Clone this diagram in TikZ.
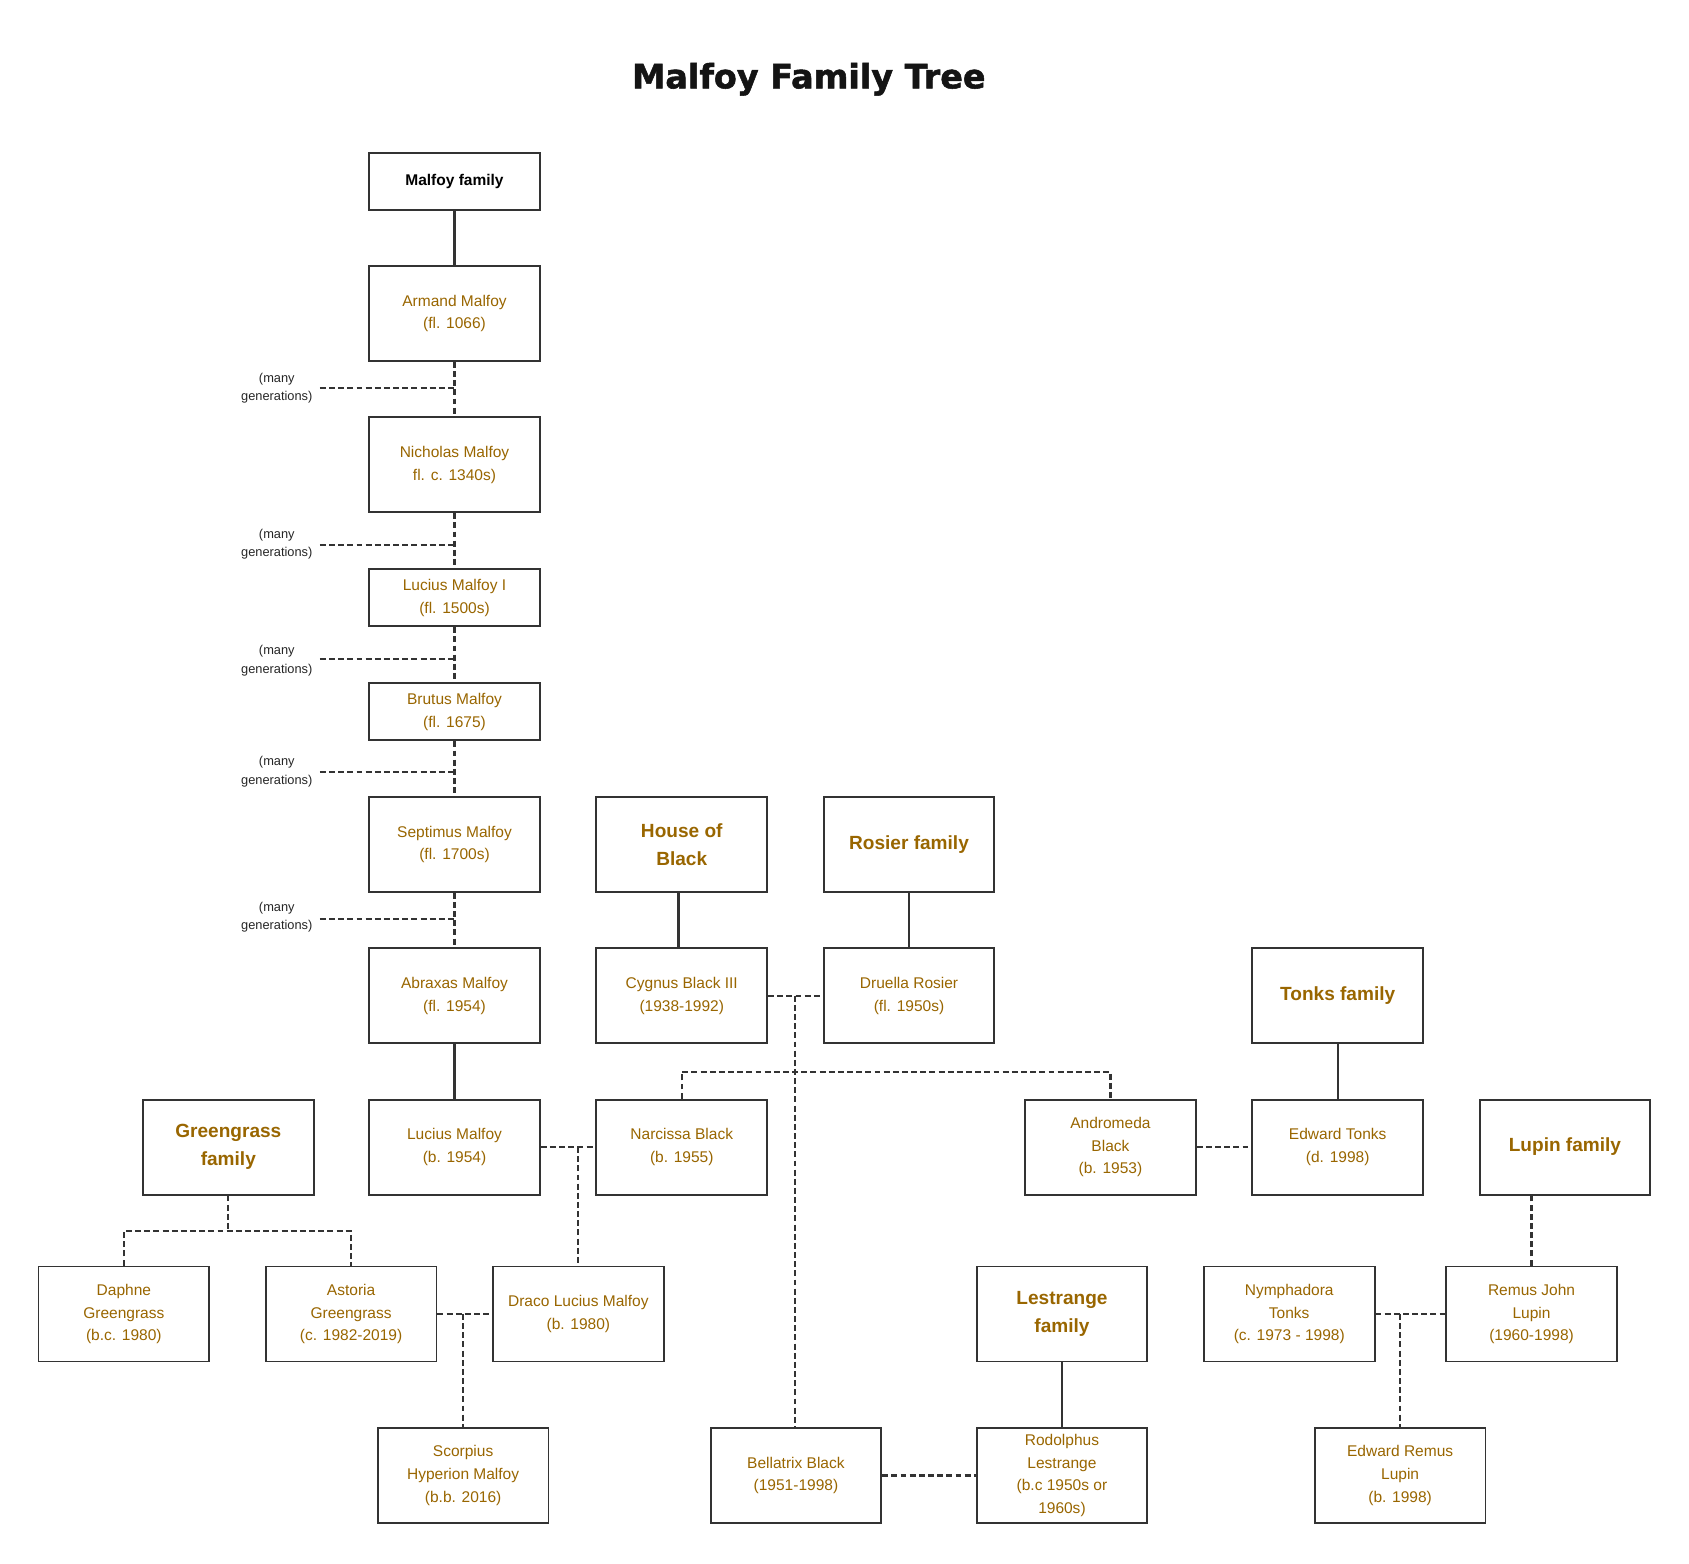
\documentclass[tikz,border=0pt]{standalone}
\usepackage{fontspec}
\setmainfont{Liberation Sans}
\newfontfamily\titlefont[BoldFeatures={FakeBold=1.6}]{DejaVu Sans}
\begin{document}
\begin{tikzpicture}[x=1pt,y=-1pt,
  boxc/.style={draw=edge,line width=1.8pt,rectangle,minimum width=158.5pt,minimum height=88.2pt,inner sep=2pt,align=center,text=gold,font=\fontsize{14.4}{21}\selectfont},
  shortbox/.style={boxc,minimum height=52.9pt},
  fam/.style={boxc,font=\fontsize{17.7}{26}\selectfont\bfseries},
  solidline/.style={draw=edge,line width=2pt},
  dashline/.style={draw=edge,line width=2pt,dash pattern=on 5.5pt off 3pt},
  gen/.style={align=center,text=black!85,font=\fontsize{11.9}{17}\selectfont,inner sep=0pt}
]
\definecolor{edge}{HTML}{333333}
\definecolor{gold}{HTML}{996600}
\useasboundingbox[fill=white] (0,0) rectangle (1568.2,1451.3);

\node[anchor=base,inner sep=0pt] (title) at (751,82) {\titlefont\bfseries\fontsize{31}{36}\selectfont\textcolor{black!92}{Malfoy Family Tree}};

% Malfoy line
\node[shortbox,text=black,font=\fontsize{14.4}{21}\selectfont\bfseries] (malfoy) at (422,168.5) {Malfoy family};
\node[boxc] (armand) at (422,291) {Armand Malfoy\\(fl. 1066)};
\node[boxc] (nicholas) at (422,431.5) {Nicholas Malfoy\\fl. c. 1340s)};
\node[shortbox] (luciusI) at (422,555) {Lucius Malfoy I\\(fl. 1500s)};
\node[shortbox] (brutus) at (422,661) {Brutus Malfoy\\(fl. 1675)};
\node[boxc] (septimus) at (422,784) {Septimus Malfoy\\(fl. 1700s)};
\node[boxc] (abraxas) at (422,924.5) {Abraxas Malfoy\\(fl. 1954)};
\node[boxc] (lucius) at (422,1065) {Lucius Malfoy\\(b. 1954)};

% Black / Rosier
\node[fam] (black) at (633,784) {House of\\Black};
\node[boxc] (cygnus) at (633,924.5) {Cygnus Black III\\(1938-1992)};
\node[boxc] (narcissa) at (633,1065) {Narcissa Black\\(b. 1955)};
\node[fam] (rosier) at (844,784) {Rosier family};
\node[boxc] (druella) at (844,924.5) {Druella Rosier\\(fl. 1950s)};
\node[boxc] (andromeda) at (1031,1065) {Andromeda\\Black\\(b. 1953)};

% Tonks / Lupin / Greengrass
\node[fam] (tonksfam) at (1242,924.5) {Tonks family};
\node[boxc] (edtonks) at (1242,1065) {Edward Tonks\\(d. 1998)};
\node[fam] (lupinfam) at (1453,1065) {Lupin family};
\node[fam] (greengrass) at (212,1065) {Greengrass\\family};

% row 4
\node[boxc] (daphne) at (115,1220) {Daphne\\Greengrass\\(b.c. 1980)};
\node[boxc] (astoria) at (326,1220) {Astoria\\Greengrass\\(c. 1982-2019)};
\node[boxc] (draco) at (537,1220) {Draco Lucius Malfoy\\(b. 1980)};
\node[fam] (lestrange) at (986,1220) {Lestrange\\family};
\node[boxc] (nymph) at (1197,1220) {Nymphadora\\Tonks\\(c. 1973 - 1998)};
\node[boxc] (remus) at (1422,1220) {Remus John\\Lupin\\(1960-1998)};

% row 5
\node[boxc] (scorpius) at (430,1370) {Scorpius\\Hyperion Malfoy\\(b.b. 2016)};
\node[boxc] (bellatrix) at (739,1370) {Bellatrix Black\\(1951-1998)};
\node[boxc] (rodolphus) at (986,1370) {Rodolphus\\Lestrange\\(b.c 1950s or\\1960s)};
\node[boxc] (edremus) at (1300,1370) {Edward Remus\\Lupin\\(b. 1998)};

% many generations labels
\node[gen] (m1) at (257,360.5) {(many\\generations)};
\node[gen] (m2) at (257,505.5) {(many\\generations)};
\node[gen] (m3) at (257,613.5) {(many\\generations)};
\node[gen] (m4) at (257,716.5) {(many\\generations)};
\node[gen] (m5) at (257,851.5) {(many\\generations)};
\coordinate (g1) at (297,360);
\coordinate (g2) at (297,506);
\coordinate (g3) at (297,612);
\coordinate (g4) at (297,717);
\coordinate (g5) at (297,853);

% solid links
\draw[solidline] (malfoy) -- (armand);
\draw[solidline] (abraxas) -- (lucius);
\coordinate (bk) at ([xshift=-3pt]black.south);
\draw[solidline] (bk) -- (bk |- cygnus.north);
\draw[solidline] (rosier) -- (druella);
\draw[solidline] (tonksfam) -- (edtonks);
\draw[solidline] (lestrange) -- (rodolphus);

% dashed Malfoy generations
\draw[dashline] (armand) -- (nicholas);
\draw[dashline] (nicholas) -- (luciusI);
\draw[dashline] (luciusI) -- (brutus);
\draw[dashline] (brutus) -- (septimus);
\draw[dashline] (septimus) -- (abraxas);
\draw[dashline] (g1) -- (g1 -| armand.south);
\draw[dashline] (g2) -- (g2 -| armand.south);
\draw[dashline] (g3) -- (g3 -| armand.south);
\draw[dashline] (g4) -- (g4 -| armand.south);
\draw[dashline] (g5) -- (g5 -| armand.south);

% Cygnus + Druella
\coordinate (cd) at (738.5,924.5);
\coordinate (sib) at (738.5,995);
\draw[dashline] (cygnus.east) -- (druella.west);
\draw[dashline] (cd) -- (cd |- bellatrix.north);
\draw[dashline] (narcissa.north) |- (sib) -| (andromeda.north);

% Lucius + Narcissa
\coordinate (ln) at (537,1065);
\draw[dashline] (lucius.east) -- (narcissa.west);
\draw[dashline] (ln) -- (draco.north);

% Andromeda + Edward Tonks
\draw[dashline] (andromeda.east) -- (edtonks.west);

% Lupin family
\draw[dashline] (remus.north) -- (remus.north |- lupinfam.south);

% Greengrass
\coordinate (gg) at (212,1143);
\draw[dashline] (greengrass.south) -- (gg);
\draw[dashline] (daphne.north) |- (gg) -| (astoria.north);

% Astoria + Draco
\coordinate (ad) at (430,1220);
\draw[dashline] (astoria.east) -- (draco.west);
\draw[dashline] (ad) -- (scorpius.north);

% Bellatrix + Rodolphus
\draw[dashline] (bellatrix.east) -- (rodolphus.west);

% Nymphadora + Remus
\coordinate (nr) at (1300,1220);
\draw[dashline] (nymph.east) -- (remus.west);
\draw[dashline] (nr) -- (edremus.north);
\end{tikzpicture}
\end{document}
